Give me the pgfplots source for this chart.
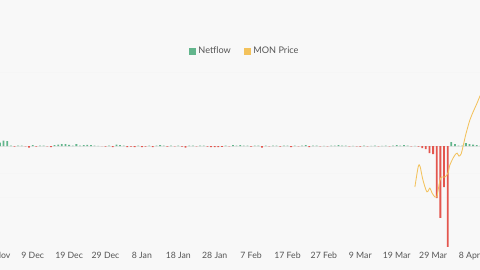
\documentclass[border=0pt]{standalone}
\usepackage{pgfplots}
\pgfplotsset{compat=1.18}
\usepackage{fontspec}
\setmainfont{Lato}
\definecolor{bgc}{HTML}{F8F8F8}
\definecolor{gflow}{HTML}{62B58C}
\definecolor{rflow}{HTML}{E4564E}
\definecolor{price}{HTML}{F3C25C}
\definecolor{lbl}{HTML}{555555}
\begin{document}
\begin{tikzpicture}
\useasboundingbox (0,0) rectangle (12,6.75);
\clip (0,0) rectangle (12,6.75);
\fill[bgc] (0,0) rectangle (12,6.75);
\begin{axis}[
  at={(-0.5475cm,0.55cm)}, anchor=south west,
  scale only axis, width=13.195cm, height=4.65cm,
  xmin=-15, xmax=130, ymin=-102, ymax=84,
  axis line style={draw=none}, major tick length=0pt,
  ytick=\empty,
  xtick={-10,0,10,20,30,40,50,60,70,80,90,100,110,120},
  xticklabels={29 Nov,9 Dec,19 Dec,29 Dec,8 Jan,18 Jan,28 Jan,7 Feb,17 Feb,27 Feb,9 Mar,19 Mar,29 Mar,8 Apr},
  xticklabel style={font=\fontsize{6.2}{7}\selectfont, text=lbl, anchor=base, yshift=-0.25cm, inner sep=0pt},
  extra y ticks={74,-27,-51}, extra y tick labels={},
  extra y tick style={grid=major, major grid style={color=black!3.5, line width=0.4pt}},
  ybar, bar width=0.045cm, bar shift=0pt,
  legend style={at={(0.5057,1.059)}, anchor=center, draw=none, fill=none,
    font=\fontsize{6.5}{7.5}\selectfont, text=lbl, legend columns=2,
    /tikz/every even column/.append style={column sep=0.25cm}},
  legend cell align=left,
]
\draw[black!10, line width=0.4pt] (axis cs:-15,0) -- (axis cs:130,0);
\addlegendimage{legend image code/.code={\fill[gflow] (0,-0.08cm) rectangle (0.16cm,0.08cm);}}
\addlegendentry{Netflow}
\addlegendimage{legend image code/.code={\fill[price] (0,-0.08cm) rectangle (0.16cm,0.08cm);}}
\addlegendentry{MON Price}
\addplot[fill=gflow, draw=none, forget plot] coordinates {
(-9,3.5) (-8,5.5) (-7,5) (-6,0.5) (-4,0.5) (-3,0.3) (0,0.8) (2,0.5) (3,0.3)
(6,1) (7,1.5) (8,2) (9,2) (10,1.2) (11,0.3) (12,2) (13,0.5) (14,1) (15,1.2) (16,1) (17,0.5) (18,0.2)
(21,0.3) (23,1.5) (24,1) (25,0.5) (29,0.5) (32,0.5) (34,0.5) (35,1) (36,0.3) (38,0.5) (40,0.3)
(43,0.3) (44,0.5) (46,0.3) (47,0.5) (53,0.3) (55,0.8) (56,0.5) (57,0.8) (58,0.5) (59,0.3)
(61,0.3) (62,0.5) (64,0.3) (66,0.5) (67,0.3) (69,0.3) (70,0.5) (72,0.3) (74,0.5) (75,1)
(77,0.3) (78,0.5) (80,0.2) (82,0.3) (83,0.5) (84,0.8) (85,0.5) (86,0.5) (88,0.2) (91,0.3)
(93,0.2) (94,0.3) (96,0.2) (97,0.3) (99,0.5) (100,0.8) (101,0.5) (102,0.8) (103,0.3) (105,0.2)
(115,4) (116,2) (117,0.5) (118,0.3) (119,3) (120,2) (121,1.5) (122,1) (123,0.5) (124,0.5)
};
\addplot[fill=rflow, draw=none, forget plot] coordinates {
(-5,-0.5) (-2,-0.3) (-1,-1.5) (1,-0.5) (4,-0.3) (5,-1) (19,-0.2) (20,-0.5) (22,-1.2)
(26,-1) (27,-0.5) (28,-1) (30,-1) (31,-0.5) (33,-1) (37,-0.5) (39,-0.3) (41,-0.5) (42,-1.5)
(45,-0.3) (48,-0.5) (49,-1) (50,-1) (51,-1.2) (52,-0.8) (54,-0.3) (60,-0.5) (63,-1.5) (65,-0.3)
(68,-0.5) (71,-1) (73,-0.3) (76,-1) (79,-0.3) (81,-0.3) (87,-0.3) (89,-0.3) (90,-0.5) (92,-0.3)
(95,-0.3) (98,-0.3) (104,-0.3) (106,-0.5) (107,-2) (108,-3) (109,-7) (110,-8) (111,-52)
(112,-72) (113,-41) (114,-101)
};
\end{axis}
\begin{axis}[
  at={(-0.5475cm,0.55cm)}, anchor=south west,
  scale only axis, width=13.195cm, height=4.65cm,
  xmin=-15, xmax=130, ymin=0, ymax=0.05,
  hide axis,
]
\addplot[price, line width=0.6pt, smooth, tension=0.5] coordinates {
(105.0,0.0164) (105.9,0.0218) (106.4,0.0220) (107.2,0.0183) (108.3,0.0151) (109.1,0.0161)
(109.7,0.0148) (110.5,0.0137) (111.0,0.0137) (111.3,0.0151) (111.9,0.0183) (112.4,0.0191)
(113.3,0.0191) (114.1,0.0202) (114.6,0.0223) (115.5,0.0242) (116.0,0.0250) (116.6,0.0255)
(117.1,0.0247) (117.7,0.0253) (118.2,0.0272) (118.8,0.0298) (119.3,0.0317) (120.1,0.0344)
(121.0,0.0366) (122.1,0.0390) (122.9,0.0409) (124.0,0.0430)
};
\end{axis}
\end{tikzpicture}
\end{document}
